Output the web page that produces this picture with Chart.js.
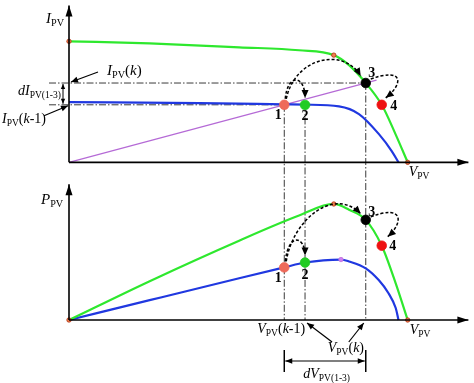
<!DOCTYPE html>
<html><head><meta charset="utf-8">
<script src="https://cdn.jsdelivr.net/npm/chart.js@4/dist/chart.umd.min.js"></script>
<style>html,body{margin:0;padding:0;background:#fff;}#wrap{width:474px;height:383px;position:relative;}</style>
</head><body><div id="wrap"><canvas id="c" width="474" height="383"></canvas></div>
<script>
// ---- data (normalised units) ----
const vGreen = [0, 20.2, 42.6, 57.6, 66.3, 70.1, 74.3, 78.3, 81.8, 84.8];
const iGreen = [7.72, 7.59, 7.34, 7.15, 6.84, 6.20, 5.06, 3.67, 1.77, 0];
const pGreen = [0, 2.86, 5.84, 7.69, 8.54, 8.12, 7.37, 5.47, 2.70, 0];
const vBlueI = [0, 32.7, 53.9, 59.1, 67.6, 72.6, 77.6, 80.8, 82.5];
const iBlue  = [3.84, 3.78, 3.70, 3.68, 3.57, 3.08, 1.80, 0.72, 0];
const vBlueP = [0, 20.2, 42.6, 53.9, 59.1, 68.1, 70.1, 74.3, 77.6, 80.0, 81.8, 82.5];
const pBlue  = [0, 1.46, 3.07, 3.87, 4.23, 4.45, 4.31, 3.80, 2.92, 1.97, 0.88, 0];
const vLoad  = [0, 77];
const iLoad  = [0, 5.24];
const ptV = [53.9, 59.1, 74.3, 78.3];
const ptI = [3.67, 3.66, 5.06, 3.67];
const ptP = [3.87, 4.23, 7.37, 5.47];
const ptLabels = ['1', '2', '3', '4'];
const ptColors = ['#ee6a5a', '#22cc22', '#000000', '#ee1111'];
const mppV = [0, 66.3, 84.8];
const mppI = [7.72, 6.84, 0];
const mppP = [0, 8.54, 0];
const blueMppV = [68.1];
const blueMppP = [4.45];

const xy = (xa, ya) => xa.map((x, i) => ({x: x, y: ya[i]}));

const GREEN = '#2ee82e', BLUE = '#2038e0', PURPLE = '#b56ad6';
const SERIF = '"Liberation Serif", "DejaVu Serif", serif';

function arrowHead(ctx, fx, fy, tx, ty, len, wid) {
  const a = Math.atan2(ty - fy, tx - fx);
  ctx.save();
  ctx.setLineDash([]);
  ctx.beginPath();
  ctx.moveTo(tx, ty);
  ctx.lineTo(tx - len * Math.cos(a) + wid * Math.sin(a), ty - len * Math.sin(a) - wid * Math.cos(a));
  ctx.lineTo(tx - len * Math.cos(a) - wid * Math.sin(a), ty - len * Math.sin(a) + wid * Math.cos(a));
  ctx.closePath();
  ctx.fill();
  ctx.restore();
}
function line(ctx, x1, y1, x2, y2) {
  ctx.beginPath(); ctx.moveTo(x1, y1); ctx.lineTo(x2, y2); ctx.stroke();
}
function arrowLine(ctx, x1, y1, x2, y2, len, wid) {
  line(ctx, x1, y1, x2, y2);
  arrowHead(ctx, x1, y1, x2, y2, len, wid);
}
// segments: [text, kind] kind: 'i' italic main, 'r' roman main, 's' subscript
function rich(ctx, x, y, segs, size) {
  const sub = size * 0.68;
  let cx = x;
  for (const [t, k] of segs) {
    if (k === 's') ctx.font = sub + 'px ' + SERIF;
    else if (k === 'i') ctx.font = 'italic ' + size + 'px ' + SERIF;
    else ctx.font = size + 'px ' + SERIF;
    const dy = (k === 's') ? size * 0.22 : 0;
    ctx.fillText(t, cx, y + dy);
    cx += ctx.measureText(t).width;
  }
}
function curveArrow(ctx, p0, c1, c2, p1) {
  ctx.beginPath();
  ctx.moveTo(p0[0], p0[1]);
  ctx.bezierCurveTo(c1[0], c1[1], c2[0], c2[1], p1[0], p1[1]);
  ctx.stroke();
  arrowHead(ctx, c2[0], c2[1], p1[0], p1[1], 8, 3.5);
}

const pvPlugin = {
  id: 'pvDecor',
  beforeDatasetsDraw(chart) {
    const ctx = chart.ctx, s = chart.scales;
    const X = v => s.x.getPixelForValue(v), YT = v => s.yT.getPixelForValue(v), YB = v => s.yB.getPixelForValue(v);
    ctx.save();
    ctx.strokeStyle = '#3a3a3a';
    ctx.lineWidth = 1;
    ctx.setLineDash([7, 2, 1.5, 2]);
    line(ctx, X(-5), YT(ptI[2]), X(ptV[2]), YT(ptI[2]));
    line(ctx, X(-5), YT(ptI[0]), X(ptV[0]), YT(ptI[0]));
    line(ctx, X(ptV[0]), YT(ptI[0]), X(ptV[0]), YB(0));
    line(ctx, X(ptV[1]), YT(ptI[1]), X(ptV[1]), YB(0));
    line(ctx, X(ptV[2]), YT(ptI[2]), X(ptV[2]), YB(0));
    ctx.restore();
  },
  afterDatasetsDraw(chart) {
    const ctx = chart.ctx, s = chart.scales, ca = chart.chartArea;
    const X = v => s.x.getPixelForValue(v), YT = v => s.yT.getPixelForValue(v), YB = v => s.yB.getPixelForValue(v);
    ctx.save();
    ctx.fillStyle = '#000'; ctx.strokeStyle = '#000';
    // axes
    ctx.lineWidth = 1.6;
    const x0 = X(0), xr = ca.right;
    arrowLine(ctx, x0, YT(0), xr, YT(0), 11, 3.5);
    arrowLine(ctx, x0, YT(0), x0, YT(10), 11, 3.5);
    arrowLine(ctx, x0, YB(0), xr, YB(0), 11, 3.5);
    arrowLine(ctx, x0, YB(0), x0, YB(10), 11, 3.5);

    // dI double arrow
    ctx.lineWidth = 1;
    const xd = x0 - 6;
    line(ctx, xd, YT(ptI[2]) + 1, xd, YT(ptI[0]) - 1);
    arrowHead(ctx, xd, YT(ptI[0]), xd, YT(ptI[2]) + 1, 5, 2.2);
    arrowHead(ctx, xd, YT(ptI[2]), xd, YT(ptI[0]) - 1, 5, 2.2);

    // label pointer arrows
    ctx.lineWidth = 1.2;
    arrowLine(ctx, x0 + 29, YT(ptI[2]) - 11, x0 + 2, YT(ptI[2]) - 1, 7, 3);
    arrowLine(ctx, x0 - 25, YT(ptI[0]) + 11, x0 - 1, YT(ptI[0]) + 1, 7, 3);
    arrowLine(ctx, X(ptV[1]) + 27, YB(0) + 22, X(ptV[1]) + 2, YB(0) + 3, 7, 3);
    arrowLine(ctx, X(ptV[2]) - 17, YB(0) + 22, X(ptV[2]) - 2, YB(0) + 3, 7, 3);

    // dV bracket
    ctx.lineWidth = 1.5;
    line(ctx, X(ptV[0]), YB(0) + 30, X(ptV[0]), YB(0) + 52);
    line(ctx, X(ptV[2]), YB(0) + 30, X(ptV[2]), YB(0) + 52);
    ctx.lineWidth = 1.1;
    line(ctx, X(ptV[0]) + 1, YB(0) + 41, X(ptV[2]) - 1, YB(0) + 41);
    arrowHead(ctx, X(ptV[2]), YB(0) + 41, X(ptV[0]) + 1, YB(0) + 41, 7, 2.8);
    arrowHead(ctx, X(ptV[0]), YB(0) + 41, X(ptV[2]) - 1, YB(0) + 41, 7, 2.8);

    // curved dashed arrows
    ctx.lineWidth = 1.5;
    ctx.setLineDash([3, 2]);
    const p = k => [X(ptV[k]), YT(ptI[k])];
    const q = k => [X(ptV[k]), YB(ptP[k])];
    let a = p(0), b = p(1), c = p(2), d = p(3);
    curveArrow(ctx, [a[0] + 1, a[1] - 6], [a[0] + 3, a[1] - 31], [b[0], b[1] - 31], [b[0], b[1] - 7]);
    curveArrow(ctx, [a[0] + 2, a[1] - 6], [a[0] + 11, a[1] - 48], [c[0] - 22, c[1] - 36], [c[0] - 5, c[1] - 7]);
    curveArrow(ctx, [c[0] + 5, c[1] - 4], [c[0] + 38, c[1] - 16], [d[0] + 22, d[1] - 21], [d[0] + 4, d[1] - 7]);
    a = q(0); b = q(1); c = q(2); d = q(3);
    curveArrow(ctx, [a[0] + 1, a[1] - 6], [a[0] + 4, a[1] - 35], [b[0], b[1] - 27], [b[0], b[1] - 7]);
    curveArrow(ctx, [a[0] + 2, a[1] - 6], [a[0] + 8, a[1] - 47], [c[0] - 32, c[1] - 34], [c[0] - 5, c[1] - 6]);
    curveArrow(ctx, [c[0] + 5, c[1] - 3], [c[0] + 38, c[1] - 16], [d[0] + 22, d[1] - 23], [d[0] + 6, d[1] - 9]);
    ctx.setLineDash([]);

    // point numbers
    ctx.font = 'bold 14px ' + SERIF;
    ctx.textAlign = 'center';
    const offT = [[-6, 14], [0, 15], [6, -6], [12, 5]];
    const offB = [[-6, 15], [0, 16], [6, -4], [11, 4]];
    for (let k = 0; k < 4; k++) {
      ctx.fillText(ptLabels[k], X(ptV[k]) + offT[k][0], YT(ptI[k]) + offT[k][1]);
      ctx.fillText(ptLabels[k], X(ptV[k]) + offB[k][0], YB(ptP[k]) + offB[k][1]);
    }
    ctx.textAlign = 'left';

    // axis & annotation labels
    rich(ctx, x0 - 23, YT(10) + 17, [['I', 'i'], ['PV', 's']], 15);
    rich(ctx, x0 - 28, YB(10) + 20, [['P', 'i'], ['PV', 's']], 15);
    rich(ctx, X(84.8) + 1, YT(0) + 14, [['V', 'i'], ['PV', 's']], 14);
    rich(ctx, X(84.8) + 2, YB(0) + 14, [['V', 'i'], ['PV', 's']], 14);
    rich(ctx, x0 + 38, YT(ptI[2]) - 8, [['I', 'i'], ['PV', 's'], ['(', 'r'], ['k', 'i'], [')', 'r']], 15);
    rich(ctx, x0 - 51, YT(ptI[2]) + 12, [['dI', 'i'], ['PV(1-3)', 's']], 14);
    rich(ctx, x0 - 67, YT(ptI[0]) + 18, [['I', 'i'], ['PV', 's'], ['(', 'r'], ['k', 'i'], ['-1)', 'r']], 14);
    rich(ctx, X(ptV[0]) - 27, YB(0) + 13, [['V', 'i'], ['PV', 's'], ['(', 'r'], ['k', 'i'], ['-1)', 'r']], 14);
    rich(ctx, X(ptV[2]) - 38, YB(0) + 32, [['V', 'i'], ['PV', 's'], ['(', 'r'], ['k', 'i'], [')', 'r']], 14);
    rich(ctx, X(ptV[0]) + 19, YB(0) + 58, [['dV', 'i'], ['PV(1-3)', 's']], 14);
    ctx.restore();
  }
};

const curve = (data, color, axis, w) => ({
  data: data, yAxisID: axis, borderColor: color, borderWidth: w, pointRadius: 0,
  cubicInterpolationMode: 'monotone', fill: false, clip: false, order: 2
});
const dots = (data, colors, axis, r, border) => ({
  data: data, yAxisID: axis, showLine: false, pointRadius: r, pointBackgroundColor: colors,
  pointBorderColor: border, pointBorderWidth: 0.8, clip: false, order: 1
});

new Chart(document.getElementById('c'), {
  type: 'line',
  data: {
    datasets: [
      dots(xy(ptV, ptI), ptColors, 'yT', 4.8, ptColors),
      dots(xy(ptV, ptP), ptColors, 'yB', 4.8, ptColors),
      dots(xy(mppV, mppI), '#f08050', 'yT', 2.2, '#b03010'),
      dots(xy(mppV, mppP), '#f08050', 'yB', 2.2, '#b03010'),
      dots(xy(blueMppV, blueMppP), '#d080f0', 'yB', 2.2, '#c070e0'),
      curve(xy(vGreen, iGreen), GREEN, 'yT', 2.2),
      curve(xy(vBlueI, iBlue), BLUE, 'yT', 2.2),
      curve(xy(vGreen, pGreen), GREEN, 'yB', 2.2),
      curve(xy(vBlueP, pBlue), BLUE, 'yB', 2.2),
      curve(xy(vLoad, iLoad), PURPLE, 'yT', 1.2)
    ]
  },
  options: {
    responsive: false, animation: false, events: [],
    layout: {padding: {left: 69, right: 4, top: 3, bottom: 63}},
    plugins: {legend: {display: false}, tooltip: {enabled: false}},
    scales: {
      x: {type: 'linear', min: 0, max: 100, display: false},
      yT: {type: 'linear', min: -10.06, max: 10, display: false},
      yB: {type: 'linear', min: 0, max: 23.14, display: false}
    }
  },
  plugins: [pvPlugin]
});
</script>
</body></html>
